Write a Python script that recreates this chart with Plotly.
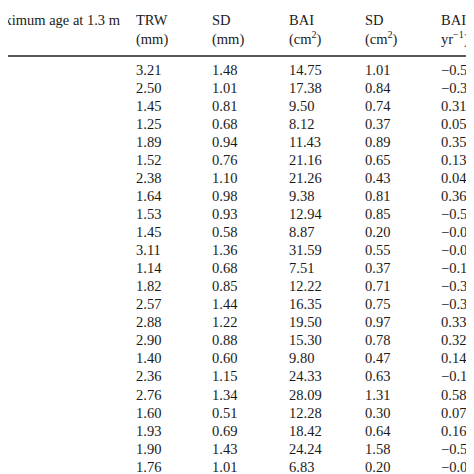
import plotly.graph_objects as go

# table values
trw = ["3.21", "2.50", "1.45", "1.25", "1.89", "1.52", "2.38", "1.64", "1.53", "1.45", "3.11", "1.14",
       "1.82", "2.57", "2.88", "2.90", "1.40", "2.36", "2.76", "1.60", "1.93", "1.90", "1.76"]
sd_mm = ["1.48", "1.01", "0.81", "0.68", "0.94", "0.76", "1.10", "0.98", "0.93", "0.58", "1.36", "0.68",
         "0.85", "1.44", "1.22", "0.88", "0.60", "1.15", "1.34", "0.51", "0.69", "1.43", "1.01"]
bai = ["14.75", "17.38", "9.50", "8.12", "11.43", "21.16", "21.26", "9.38", "12.94", "8.87", "31.59", "7.51",
       "12.22", "16.35", "19.50", "15.30", "9.80", "24.33", "28.09", "12.28", "18.42", "24.24", "6.83"]
sd_cm2 = ["1.01", "0.84", "0.74", "0.37", "0.89", "0.65", "0.43", "0.81", "0.85", "0.20", "0.55", "0.37",
          "0.71", "0.75", "0.97", "0.78", "0.47", "0.63", "1.31", "0.30", "0.64", "1.58", "0.20"]
bai_trend = ["−0.533", "−0.356", "0.314", "0.056", "0.354", "0.133", "0.046", "0.364", "−0.577", "−0.036",
             "−0.056", "−0.146", "−0.317", "−0.312", "0.335", "0.325", "0.146", "−0.156", "0.586", "0.077",
             "0.164", "−0.596", "−0.077"]

headers1 = ["TRW", "SD", "BAI", "SD", "BAI trend (cm<sup>2</sup>"]
headers2 = ["(mm)", "(mm)", "(cm<sup>2</sup>)", "(cm<sup>2</sup>)", "yr<sup>−1</sup>)"]
columns = [trw, sd_mm, bai, sd_cm2, bai_trend]
col_x = [128, 204, 281, 357, 433]

row_y0, row_step = 63, 18.05
font = dict(family="Liberation Serif", size=14.5, color="#1a1a1a")

fig = go.Figure()
for x, col in zip(col_x, columns):
    fig.add_trace(go.Scatter(
        x=[x] * len(col), y=[row_y0 + i * row_step for i in range(len(col))],
        text=col, mode="text", textposition="middle right",
        textfont=font, cliponaxis=False, hoverinfo="skip"))

fig.add_trace(go.Scatter(
    x=col_x * 2, y=[13] * 5 + [32] * 5, text=headers1 + headers2,
    mode="text", textposition="middle right", textfont=font,
    cliponaxis=False, hoverinfo="skip"))
fig.add_trace(go.Scatter(
    x=[112], y=[13], text=["Maximum age at 1.3 m"], mode="text",
    textposition="middle left", textfont=font, cliponaxis=False, hoverinfo="skip"))

fig.add_shape(type="line", x0=0, x1=474, y0=48, y1=48, line=dict(color="#222", width=1.5))

fig.update_layout(
    width=474, height=474, margin=dict(l=0, r=0, t=0, b=0),
    paper_bgcolor="white", plot_bgcolor="white", showlegend=False,
    font=dict(family="Liberation Serif"),
    xaxis=dict(range=[0, 474], visible=False),
    yaxis=dict(range=[474, 0], visible=False),
)
fig.write_html("out.html")
